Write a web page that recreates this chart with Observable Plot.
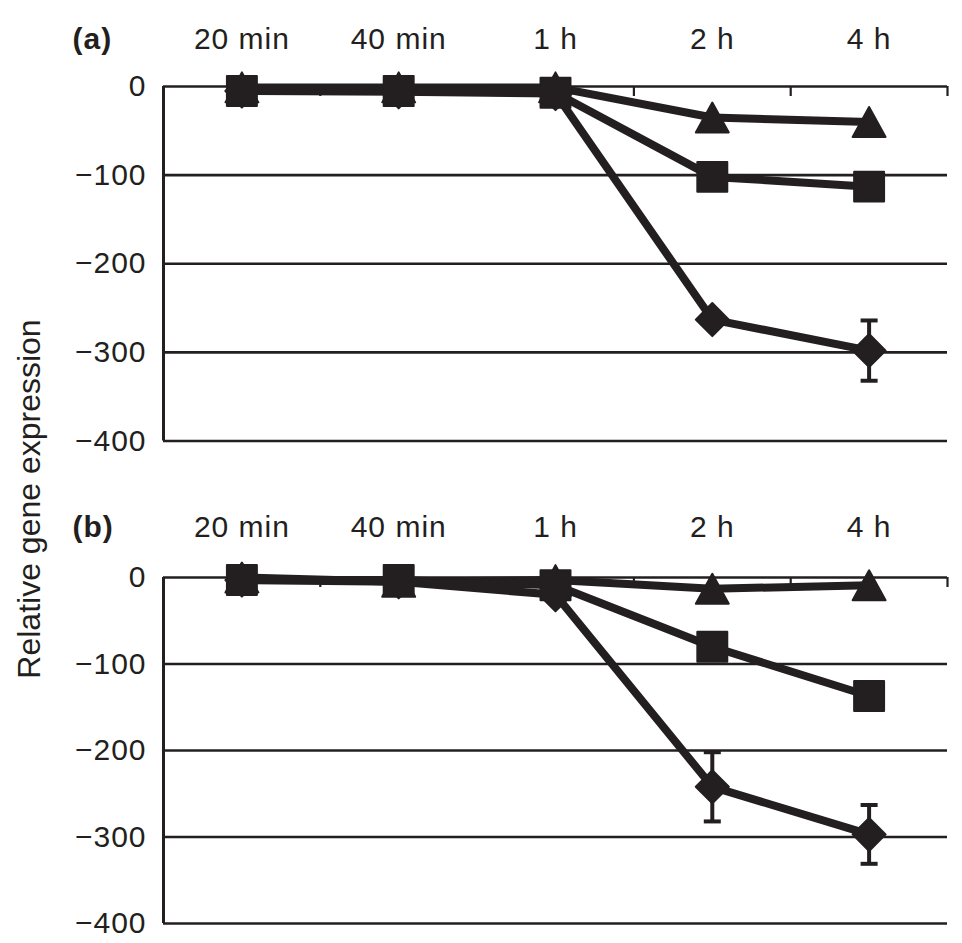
<!DOCTYPE html>
<html>
<head>
<meta charset="utf-8">
<script src="https://cdn.jsdelivr.net/npm/d3@7"></script>
<script src="https://cdn.jsdelivr.net/npm/@observablehq/plot@0.6"></script>
<style>
  html, body { margin: 0; padding: 0; background: #fff; }
  #chart { position: relative; width: 962px; height: 943px; overflow: hidden; }
  #chart > svg { display: block; }
  #ylabel { position: absolute; left: 0; top: 0; pointer-events: none; }
</style>
</head>
<body>
<div id="chart"></div>
<script>
// Sampling times (top axis) and value ticks
const categories = ["20 min", "40 min", "1 h", "2 h", "4 h"];
const yTicks = [0, -100, -200, -300, -400];

// Panel (a): relative expression per time point
const aTriangle = [-1, -1, -1, -35, -40];
const aSquare = [-5, -5, -7, -102, -113];
const aDiamond = [-5, -6, -8, -263, -298];
const aDiamondErr = [null, null, null, null, 34];

// Panel (b)
const bTriangle = [0, -5, -3, -13, -9];
const bSquare = [-3, -3, -9, -80, -137];
const bDiamond = [-3, -5, -20, -242, -297];
const bDiamondErr = [null, null, null, 40, 34];

const ink = "#231f20";
const font = "'Liberation Sans', Arial, Helvetica, sans-serif";

// Marker shapes: triangle centred on its bounding box, and a flat error-bar cap
const triangle = {
  draw(ctx, size) {
    const t = Math.sqrt(size);
    ctx.moveTo(0, -t / 2);
    ctx.lineTo(t * 0.55, t / 2);
    ctx.lineTo(-t * 0.55, t / 2);
    ctx.closePath();
  }
};
const cap = {
  draw(ctx, size) {
    const w = Math.sqrt(size);
    ctx.moveTo(-w / 2, 0);
    ctx.lineTo(w / 2, 0);
  }
};

const rows = (values, err) =>
  values.map((v, i) => ({t: i + 0.5, v, e: err ? err[i] : null}));

function panel(tag, tri, sq, dia, diaErr, layout) {
  const triRows = rows(tri);
  const sqRows = rows(sq);
  const diaRows = rows(dia, diaErr);
  const errRows = diaRows.filter(d => d.e != null);
  const capRows = errRows.flatMap(d => [{t: d.t, y: d.v + d.e}, {t: d.t, y: d.v - d.e}]);
  const bounds = categories.map((_, i) => i + 1);

  return Plot.plot({
    width: 962,
    height: layout.height,
    marginTop: layout.marginTop,
    marginBottom: layout.marginBottom,
    marginLeft: 163,
    marginRight: 15,
    style: {
      fontFamily: font,
      fontSize: "30px",
      letterSpacing: "1px",
      color: ink,
      background: "#fff",
      overflow: "visible"
    },
    x: {
      domain: [0, categories.length],
      axis: "top",
      ticks: categories.map((_, i) => i + 0.5),
      tickFormat: t => categories[Math.floor(t)],
      tickSize: 0,
      tickPadding: layout.xPad,
      label: null
    },
    y: {
      domain: [-400, 0],
      ticks: yTicks,
      tickSize: 0,
      tickPadding: 17,
      label: null
    },
    marks: [
      Plot.ruleY(yTicks, {stroke: ink, strokeWidth: 2.6}),
      Plot.ruleX([0], {stroke: ink, strokeWidth: 3}),
      Plot.ruleX(bounds, {x: d => d, y1: 0, y2: 0, insetBottom: -10, stroke: ink, strokeWidth: 2.2}),
      Plot.ruleX(errRows, {x: "t", y1: d => d.v - d.e, y2: d => d.v + d.e, stroke: ink, strokeWidth: 4}),
      Plot.dot(capRows, {x: "t", y: "y", symbol: cap, r: 9.6, stroke: ink, fill: "none", strokeWidth: 4}),
      Plot.line(diaRows, {x: "t", y: "v", stroke: ink, strokeWidth: 8, strokeLinejoin: "round"}),
      Plot.line(triRows, {x: "t", y: "v", stroke: ink, strokeWidth: 8, strokeLinejoin: "round"}),
      Plot.line(sqRows, {x: "t", y: "v", stroke: ink, strokeWidth: 8, strokeLinejoin: "round"}),
      Plot.dot(diaRows, {x: "t", y: "v", symbol: "diamond2", r: 14.9, fill: ink, stroke: ink, strokeWidth: 2, strokeLinejoin: "round"}),
      Plot.dot(triRows, {x: "t", y: "v", symbol: triangle, r: 16.9, fill: ink, stroke: ink, strokeWidth: 2, strokeLinejoin: "round"}),
      Plot.dot(sqRows, {x: "t", y: "v", symbol: "square", r: 16.9, fill: ink, stroke: ink, strokeWidth: 2, strokeLinejoin: "round"}),
      Plot.text([tag], {
        text: d => d,
        frameAnchor: "top-left",
        textAnchor: "start",
        lineAnchor: "bottom",
        dx: -91,
        dy: layout.tagDy,
        fontWeight: "bold",
        fontSize: 30,
        fill: ink
      })
    ]
  });
}

const chart = document.getElementById("chart");
chart.append(panel("(a)", aTriangle, aSquare, aDiamond, aDiamondErr,
  {height: 470, marginTop: 86, marginBottom: 29.5, xPad: 38, tagDy: -38}));
chart.append(panel("(b)", bTriangle, bSquare, bDiamond, bDiamondErr,
  {height: 473, marginTop: 107, marginBottom: 20, xPad: 41, tagDy: -41}));

// Shared vertical title spanning both panels
const overlay = d3.select(chart).append("svg")
  .attr("id", "ylabel")
  .attr("width", 962)
  .attr("height", 943);
overlay.append("text")
  .attr("transform", "translate(40,499) rotate(-90)")
  .attr("text-anchor", "middle")
  .attr("font-family", font)
  .attr("font-size", 32)
  .attr("fill", ink)
  .text("Relative gene expression");
</script>
</body>
</html>
